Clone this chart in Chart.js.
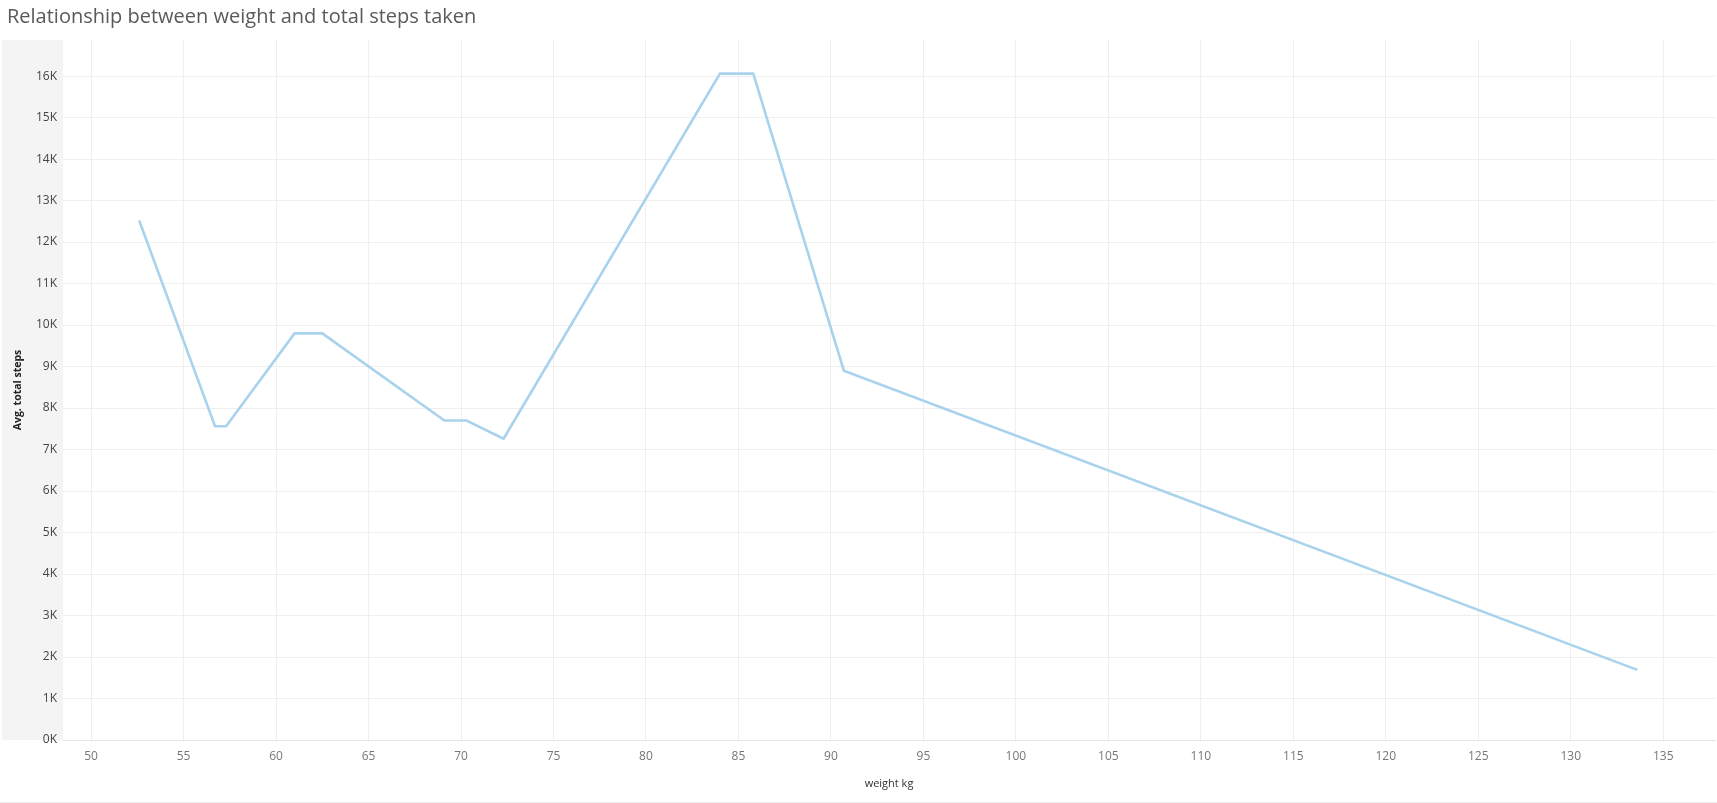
<!DOCTYPE html>
<html>
<head>
<meta charset="utf-8">
<title>Relationship between weight and total steps taken</title>
<script src="https://cdn.jsdelivr.net/npm/chart.js@4"></script>
<style>
  html, body { margin: 0; padding: 0; background: #fff; }
  #wrap { position: relative; width: 1717px; height: 802px; border-bottom: 1px solid #ececec; }
</style>
</head>
<body>
<div id="wrap"><canvas id="grafico"></canvas></div>
<script>
// pesos (kg) e media de passos totais
const weightKg = [52.6, 56.7, 57.3, 61.0, 62.5, 69.1, 70.3, 72.3, 84.0, 85.8, 90.7, 133.6];
const avgSteps = [12520, 7560, 7560, 9800, 9800, 7700, 7700, 7260, 16060, 16060, 8900, 1690];
const xTicks = [50, 55, 60, 65, 70, 75, 80, 85, 90, 95, 100, 105, 110, 115, 120, 125, 130, 135];
const yTicks = [0, 1000, 2000, 3000, 4000, 5000, 6000, 7000, 8000, 9000, 10000, 11000, 12000, 13000, 14000, 15000, 16000];

const pontos = weightKg.map((w, i) => ({ x: w, y: avgSteps[i] }));

// faixa cinza atras dos rotulos do eixo y
const faixaY = {
  id: 'faixaY',
  beforeDraw(chart) {
    const { ctx, chartArea, scales } = chart;
    ctx.save();
    ctx.fillStyle = '#f4f4f4';
    ctx.fillRect(scales.y.left - 5, chartArea.top, chartArea.left - scales.y.left + 5, chartArea.bottom - chartArea.top);
    ctx.restore();
  }
};

const gridCor = '#efefef';
const fonte = "'Open Sans', 'Noto Sans', sans-serif";

new Chart(document.getElementById('grafico'), {
  type: 'line',
  data: {
    datasets: [{
      label: 'Avg. total steps',
      data: pontos,
      borderColor: '#a9d3ed',
      borderWidth: 2.6,
      pointRadius: 0,
      tension: 0,
      fill: false
    }]
  },
  options: {
    responsive: true,
    maintainAspectRatio: false,
    animation: false,
    layout: { padding: { left: 7, right: 2, top: 0, bottom: 0 } },
    plugins: {
      legend: { display: false },
      tooltip: { enabled: false },
      title: {
        display: true,
        text: 'Relationship between weight and total steps taken',
        align: 'start',
        color: '#5a5a5a',
        font: { family: fonte, size: 20, weight: 'normal' },
        padding: { top: 5.5, bottom: 10.5 }
      }
    },
    scales: {
      x: {
        type: 'linear',
        min: 48.48,
        max: 137.8,
        afterBuildTicks(scale) { scale.ticks = xTicks.map(v => ({ value: v })); },
        afterFit(scale) { scale.height = 62; },
        border: { color: '#e6e6e6' },
        grid: { color: gridCor, drawTicks: false },
        ticks: { color: '#777', padding: 9, font: { family: fonte, size: 12 } },
        title: {
          display: true,
          text: 'weight kg',
          color: '#333',
          font: { family: fonte, size: 11 },
          padding: { top: 0, bottom: 11.4 }
        }
      },
      y: {
        min: 0,
        max: 16870,
        afterBuildTicks(scale) { scale.ticks = yTicks.map(v => ({ value: v })); },
        afterFit(scale) { scale.width = 56; },
        border: { display: false },
        grid: { color: gridCor, drawTicks: false },
        ticks: {
          color: '#444',
          padding: 6,
          font: { family: fonte, size: 12 },
          callback: v => (v / 1000) + 'K'
        },
        title: {
          display: true,
          text: 'Avg. total steps',
          color: '#222',
          font: { family: fonte, size: 10.5, weight: 'bold' },
          padding: { top: 4.5, bottom: 0 }
        }
      }
    }
  },
  plugins: [faixaY]
});
</script>
</body>
</html>
